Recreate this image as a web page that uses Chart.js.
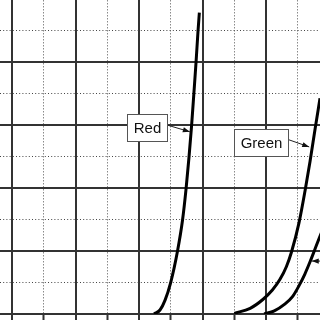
<!DOCTYPE html>
<html><head><meta charset="utf-8">
<script src="https://cdn.jsdelivr.net/npm/chart.js@4.4.0/dist/chart.umd.min.js"></script>
<style>html,body{margin:0;padding:0;background:#fff;overflow:hidden}#c{display:block}</style>
</head><body>
<canvas id="c" width="320" height="320"></canvas>
<script>
// Grid positions (major lines at whole units, minor dotted lines at halves)
const xGrid = [0, 0.5, 1, 1.5, 2, 2.5, 3, 3.5, 4, 4.5];
const yGrid = [0, 0.5, 1, 1.5, 2, 2.5, 3, 3.5, 4, 4.5];
const xRange = [-0.19, 4.85];
const yRange = [0, 4.98];

// Curves
const redX   = [2.236, 2.33, 2.41, 2.496, 2.606, 2.685, 2.74, 2.787, 2.827, 2.863, 2.898, 2.929, 2.95];
const redY   = [0.0,   0.063, 0.22, 0.49, 1.0,   1.49,  1.98, 2.49,  2.98,  3.49,  4.0,   4.49,  4.78];
const greenX = [3.50, 3.75, 3.95, 4.10, 4.22, 4.32, 4.40, 4.52, 4.614, 4.693, 4.775, 4.85, 4.945];
const greenY = [0.01, 0.09, 0.23, 0.38, 0.55, 0.75, 0.98, 1.45, 1.95,  2.42,  2.95,  3.42, 4.02];
const blueX  = [3.97, 4.13, 4.30, 4.42, 4.52, 4.61, 4.69, 4.76, 4.84, 5.0];
const blueY  = [0.0,  0.05, 0.16, 0.28, 0.45, 0.63, 0.82, 1.0,  1.21, 1.6];

const seriesNames = ['Red', 'Green', 'Blue'];

const pts = (xs, ys) => xs.map((x, i) => ({x: x, y: ys[i]}));
const isMajor = c => c.tick && Math.abs(c.tick.value - Math.round(c.tick.value)) < 1e-6;

const callouts = {
  id: 'callouts',
  afterDatasetsDraw(chart, args, opts) {
    const {ctx} = chart;
    const xs = chart.scales.x, ys = chart.scales.y;
    ctx.save();
    ctx.font = '15px "Liberation Sans", Arial, sans-serif';
    opts.items.forEach(it => {
      const cx = xs.getPixelForValue(it.bx), cy = ys.getPixelForValue(it.by);
      const tx = xs.getPixelForValue(it.tx), ty = ys.getPixelForValue(it.ty);
      const tw = ctx.measureText(it.text).width;
      const w = Math.round(tw + 2 * opts.padX), h = opts.h;
      const left = Math.round(cx - w / 2), top = Math.round(cy - h / 2);
      const sx = tx > cx ? left + w : left;
      const sy = cy - 3;
      // leader line
      ctx.strokeStyle = '#222';
      ctx.lineWidth = 1;
      ctx.beginPath();
      ctx.moveTo(sx, sy);
      ctx.lineTo(tx, ty);
      ctx.stroke();
      // arrow head
      const a = Math.atan2(ty - sy, tx - sx);
      const L = 7, W = 2.6;
      ctx.fillStyle = '#111';
      ctx.beginPath();
      ctx.moveTo(tx, ty);
      ctx.lineTo(tx - L * Math.cos(a) + W * Math.sin(a), ty - L * Math.sin(a) - W * Math.cos(a));
      ctx.lineTo(tx - L * Math.cos(a) - W * Math.sin(a), ty - L * Math.sin(a) + W * Math.cos(a));
      ctx.closePath();
      ctx.fill();
      // box
      ctx.fillStyle = '#fff';
      ctx.fillRect(left, top, w, h);
      ctx.strokeStyle = '#555';
      ctx.strokeRect(left + 0.5, top + 0.5, w, h);
      ctx.fillStyle = '#111';
      ctx.textAlign = 'center';
      ctx.textBaseline = 'middle';
      ctx.fillText(it.text, left + w / 2 + 0.5, top + h / 2 + 1);
    });
    ctx.restore();
  }
};

new Chart(document.getElementById('c'), {
  type: 'line',
  data: {
    datasets: [
      {label: seriesNames[0], data: pts(redX, redY)},
      {label: seriesNames[1], data: pts(greenX, greenY)},
      {label: seriesNames[2], data: pts(blueX, blueY)}
    ].map(d => Object.assign(d, {
      borderColor: '#000', borderWidth: 3, pointRadius: 0,
      cubicInterpolationMode: 'monotone', fill: false
    }))
  },
  options: {
    responsive: false,
    animation: false,
    layout: {padding: 0},
    plugins: {
      legend: {display: false},
      tooltip: {enabled: false},
      callouts: {
        padX: 6, h: 27,
        items: [
          {text: seriesNames[0], bx: 2.126, by: 2.95, tx: 2.80, ty: 2.89},
          {text: seriesNames[1], bx: 3.913, by: 2.72, tx: 4.68, ty: 2.65},
          {text: seriesNames[2], bx: 5.45, by: 0.79, tx: 4.72, ty: 0.84}
        ]
      }
    },
    scales: {
      x: {
        type: 'linear', position: 'bottom', min: xRange[0], max: xRange[1],
        afterBuildTicks: s => { s.ticks = xGrid.map(v => ({value: v})); },
        ticks: {display: false},
        grid: {
          color: c => isMajor(c) ? '#333' : '#8a8a8a',
          lineWidth: c => isMajor(c) ? 2 : 1,
          drawTicks: true, tickLength: 6, tickColor: '#333', tickWidth: 2
        },
        border: {display: true, color: '#333', width: 2,
          dash: c => (c.tick && !isMajor(c)) ? [1.5, 1.5] : []}
      },
      y: {
        type: 'linear', min: yRange[0], max: yRange[1],
        afterBuildTicks: s => { s.ticks = yGrid.map(v => ({value: v})); },
        ticks: {display: false},
        grid: {
          color: c => isMajor(c) ? '#333' : '#444',
          lineWidth: c => isMajor(c) ? 2 : 1,
          drawTicks: false
        },
        border: {display: false,
          dash: c => (c.tick && !isMajor(c)) ? [1, 2.2] : []}
      }
    }
  },
  plugins: [callouts]
});
</script>
</body></html>
